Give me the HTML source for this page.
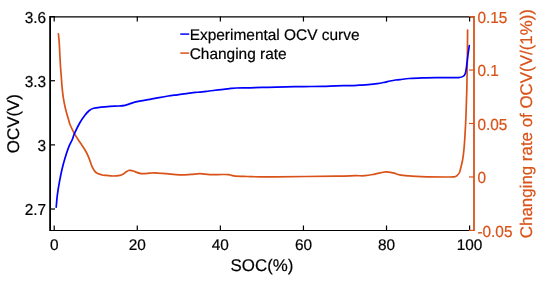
<!DOCTYPE html><html><head><meta charset="utf-8"><style>html,body{margin:0;padding:0;background:#fff;}svg{display:block;will-change:transform;}text{font-family:"Liberation Sans",sans-serif;text-rendering:geometricPrecision;}.k{fill:#000;stroke:#000;stroke-width:0.2px;}.r{fill:#D95319;stroke:#D95319;stroke-width:0.2px;}</style></head><body>
<svg width="550" height="282" viewBox="0 0 550 282">
<rect width="550" height="282" fill="#fff"/>
<path d="M58.40 33.90C58.53 35.28 58.97 38.93 59.20 42.20C59.43 45.47 59.60 49.70 59.80 53.50C60.00 57.30 60.17 61.32 60.40 65.00C60.63 68.68 60.93 72.05 61.20 75.60C61.47 79.15 61.67 82.75 62.00 86.30C62.33 89.85 62.73 93.65 63.20 96.90C63.67 100.15 64.23 103.12 64.80 105.80C65.37 108.48 65.98 110.72 66.60 113.00C67.22 115.28 67.90 117.50 68.50 119.50C69.10 121.50 69.22 122.65 70.20 125.00C71.18 127.35 72.78 130.72 74.40 133.60C76.02 136.48 78.15 139.62 79.90 142.30C81.65 144.98 83.45 147.23 84.90 149.70C86.35 152.17 87.37 154.20 88.60 157.10C89.83 160.00 91.07 164.53 92.30 167.10C93.53 169.67 94.35 171.18 96.00 172.50C97.65 173.82 100.43 174.52 102.20 175.00C103.97 175.48 104.77 175.23 106.60 175.40C108.43 175.57 110.98 176.00 113.20 176.00C115.42 176.00 118.23 175.72 119.90 175.40C121.57 175.08 122.13 174.70 123.20 174.10C124.27 173.50 125.42 172.40 126.30 171.80C127.18 171.20 127.75 170.73 128.50 170.50C129.25 170.27 130.02 170.32 130.80 170.40C131.58 170.48 132.42 170.75 133.20 171.00C133.98 171.25 134.13 171.47 135.50 171.90C136.87 172.33 139.03 173.38 141.40 173.60C143.77 173.82 147.50 173.33 149.70 173.20C151.90 173.07 151.85 172.72 154.60 172.80C157.35 172.88 162.05 173.35 166.20 173.70C170.35 174.05 175.37 174.78 179.50 174.90C183.63 175.02 187.60 174.60 191.00 174.40C194.40 174.20 196.77 173.67 199.90 173.70C203.03 173.73 206.07 174.47 209.80 174.60C213.53 174.73 219.17 174.50 222.30 174.50C225.43 174.50 227.03 174.45 228.60 174.60C230.17 174.75 230.57 175.15 231.70 175.40C232.83 175.65 233.33 175.93 235.40 176.10C237.47 176.27 241.43 176.30 244.10 176.40C246.77 176.50 248.42 176.63 251.40 176.70C254.38 176.77 257.90 176.78 262.00 176.80C266.10 176.82 263.63 176.90 276.00 176.80C288.37 176.70 323.03 176.38 336.20 176.20C349.37 176.02 350.22 175.78 355.00 175.70C359.78 175.62 361.58 175.97 364.90 175.70C368.22 175.43 371.45 174.73 374.90 174.10C378.35 173.47 382.57 172.10 385.60 171.90C388.63 171.70 390.75 172.40 393.10 172.90C395.45 173.40 396.95 174.40 399.70 174.90C402.45 175.40 406.02 175.62 409.60 175.90C413.18 176.18 414.85 176.42 421.20 176.60C427.55 176.78 442.23 176.97 447.70 177.00C453.17 177.03 452.45 177.03 454.00 176.80C455.55 176.57 456.08 176.32 457.00 175.60C457.92 174.88 458.88 173.77 459.50 172.50C460.12 171.23 460.18 170.08 460.70 168.00C461.22 165.92 462.07 163.00 462.60 160.00C463.13 157.00 463.50 154.17 463.90 150.00C464.30 145.83 464.65 140.83 465.00 135.00C465.35 129.17 465.70 122.50 466.00 115.00C466.30 107.50 466.58 99.17 466.80 90.00C467.02 80.83 467.17 69.97 467.30 60.00C467.43 50.03 467.55 35.17 467.60 30.20" fill="none" stroke="#D95319" stroke-width="1.70" stroke-linejoin="round" stroke-linecap="round"/>
<path d="M56.20 207.20C56.40 205.10 56.87 198.77 57.40 194.60C57.93 190.43 58.65 186.33 59.40 182.20C60.15 178.07 60.98 173.73 61.90 169.80C62.82 165.87 63.78 162.33 64.90 158.60C66.02 154.87 67.37 150.58 68.60 147.40C69.83 144.22 71.33 141.80 72.30 139.50C73.27 137.20 73.17 136.35 74.40 133.60C75.63 130.85 77.95 126.07 79.70 123.00C81.45 119.93 83.30 117.28 84.90 115.20C86.50 113.12 87.83 111.65 89.30 110.50C90.77 109.35 91.78 108.85 93.70 108.30C95.62 107.75 98.08 107.52 100.80 107.20C103.52 106.88 106.98 106.60 110.00 106.40C113.02 106.20 116.38 106.18 118.90 106.00C121.42 105.82 123.33 105.65 125.10 105.30C126.87 104.95 128.03 104.38 129.50 103.90C130.97 103.42 131.98 102.90 133.90 102.40C135.82 101.90 138.32 101.40 141.00 100.90C143.68 100.40 146.98 99.95 150.00 99.40C153.02 98.85 156.07 98.17 159.10 97.60C162.13 97.03 165.17 96.47 168.20 96.00C171.23 95.53 174.27 95.20 177.30 94.80C180.33 94.40 183.37 94.00 186.40 93.60C189.43 93.20 193.23 92.65 195.50 92.40C197.77 92.15 197.73 92.33 200.00 92.10C202.27 91.87 206.07 91.37 209.10 91.00C212.13 90.63 215.17 90.25 218.20 89.90C221.23 89.55 225.18 89.15 227.30 88.90C229.42 88.65 229.38 88.55 230.90 88.40C232.42 88.25 233.22 88.10 236.40 88.00C239.58 87.90 244.73 87.92 250.00 87.80C255.27 87.68 261.93 87.47 268.00 87.30C274.07 87.13 280.40 86.92 286.40 86.80C292.40 86.68 297.95 86.68 304.00 86.60C310.05 86.52 317.37 86.43 322.70 86.30C328.03 86.17 331.45 85.92 336.00 85.80C340.55 85.68 346.15 85.70 350.00 85.60C353.85 85.50 356.07 85.35 359.10 85.20C362.13 85.05 365.17 84.95 368.20 84.70C371.23 84.45 374.58 84.10 377.30 83.70C380.02 83.30 382.38 82.75 384.50 82.30C386.62 81.85 388.17 81.38 390.00 81.00C391.83 80.62 393.83 80.23 395.50 80.00C397.17 79.77 397.73 79.85 400.00 79.60C402.27 79.35 405.32 78.78 409.10 78.50C412.88 78.22 418.15 78.03 422.70 77.90C427.25 77.77 431.85 77.73 436.40 77.70C440.95 77.67 446.30 77.72 450.00 77.70C453.70 77.68 456.42 77.82 458.60 77.60C460.78 77.38 461.97 77.13 463.10 76.40C464.23 75.67 464.82 74.92 465.40 73.20C465.98 71.48 466.18 69.05 466.60 66.10C467.02 63.15 467.45 58.92 467.90 55.50C468.35 52.08 469.07 47.25 469.30 45.60" fill="none" stroke="#0000FF" stroke-width="1.70" stroke-linejoin="round" stroke-linecap="round"/>
<g fill="none" stroke="#000">
<path d="M50.10 15.90V231.10" stroke-width="1.80"/>
<path d="M50.00 16.90H474.00" stroke-width="1.20"/>
<path d="M50.00 230.50H474.00" stroke-width="1.20"/>
<g stroke-width="1.20">
<path d="M54.20 230.40v-5 M54.20 16.60v5"/>
<path d="M137.28 230.40v-5 M137.28 16.60v5"/>
<path d="M220.36 230.40v-5 M220.36 16.60v5"/>
<path d="M303.44 230.40v-5 M303.44 16.60v5"/>
<path d="M386.52 230.40v-5 M386.52 16.60v5"/>
<path d="M469.60 230.40v-5 M469.60 16.60v5"/>
<path d="M50.00 209.02h5"/>
<path d="M50.00 144.88h5"/>
<path d="M50.00 80.74h5"/>
<path d="M50.00 16.60h5"/>
</g></g>
<g stroke="#D95319" fill="none">
<path d="M474.00 15.90V231.10" stroke-width="1.80"/>
<g stroke-width="1.20">
<path d="M474.00 230.40h-5"/>
<path d="M474.00 176.95h-5"/>
<path d="M474.00 123.50h-5"/>
<path d="M474.00 70.05h-5"/>
<path d="M474.00 16.60h-5"/>
</g></g>
<g font-size="15.4" class="k">
<text x="54.20" y="249.80" text-anchor="middle">0</text>
<text x="137.28" y="249.80" text-anchor="middle">20</text>
<text x="220.36" y="249.80" text-anchor="middle">40</text>
<text x="303.44" y="249.80" text-anchor="middle">60</text>
<text x="386.52" y="249.80" text-anchor="middle">80</text>
<text x="469.60" y="249.80" text-anchor="middle">100</text>
<text transform="translate(46.10,215.12) scale(1,1.030)" text-anchor="end">2.7</text>
<text transform="translate(46.10,150.98) scale(1,1.030)" text-anchor="end">3</text>
<text transform="translate(46.10,86.84) scale(1,1.030)" text-anchor="end">3.3</text>
<text transform="translate(46.10,22.70) scale(1,1.030)" text-anchor="end">3.6</text>
</g>
<g font-size="15.4" class="r">
<text transform="translate(477.40,236.60) scale(1,1.040)">-0.05</text>
<text transform="translate(477.40,183.15) scale(1,1.040)">0</text>
<text transform="translate(477.40,129.70) scale(1,1.040)">0.05</text>
<text transform="translate(477.40,76.25) scale(1,1.040)">0.1</text>
<text transform="translate(477.40,22.80) scale(1,1.040)">0.15</text>
</g>
<text class="k" x="262.00" y="270.60" font-size="16.9" text-anchor="middle">SOC(%)</text>
<text class="k" transform="translate(19.30,123.60) rotate(-90)" font-size="16.9" text-anchor="middle">OCV(V)</text>
<text class="r" transform="translate(532.00,123.60) rotate(-90)" font-size="16.9" text-anchor="middle">Changing rate of OCV(V/(1%))</text>
<path d="M180.3 34.10H189.2" stroke="#0000FF" stroke-width="1.5"/>
<path d="M180.3 53.10H189.2" stroke="#D95319" stroke-width="1.5"/>
<text class="k" x="189.70" y="39.70" font-size="15.45">Experimental OCV curve</text>
<text class="k" x="189.70" y="58.70" font-size="15.45">Changing rate</text>
</svg></body></html>
